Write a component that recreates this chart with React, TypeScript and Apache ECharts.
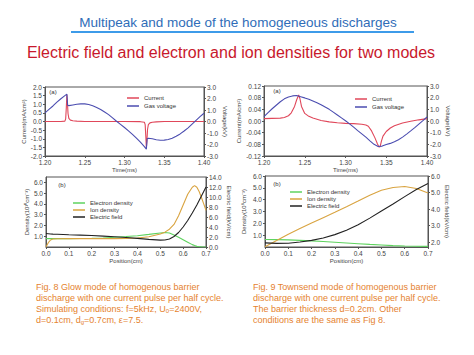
import React, { useEffect, useRef } from 'react';
import * as echarts from 'echarts';

// ---------- Fig. 8 (a): glow mode, current & gas voltage ----------
const glowCurrentTime = [1.200, 1.220, 1.2250, 1.2260, 1.2268, 1.2275, 1.2282, 1.2290, 1.2300, 1.2320, 1.2350, 1.2400, 1.2500, 1.3000, 1.3200, 1.3250, 1.3260, 1.3268, 1.3275, 1.3282, 1.3290, 1.3300, 1.3320, 1.3350, 1.3400, 1.3500, 1.4000];
const glowCurrent = [0.0, 0.0, 0.02, 0.15, 0.80, 1.55, 1.10, 0.45, 0.18, 0.08, 0.04, 0.02, 0.0, 0.0, -0.01, -0.04, -0.18, -0.85, -1.55, -1.10, -0.45, -0.18, -0.08, -0.04, -0.02, 0.0, 0.0];
const glowVoltageTime = [1.200, 1.205, 1.210, 1.215, 1.220, 1.225, 1.2275, 1.2285, 1.230, 1.235, 1.240, 1.245, 1.250, 1.255, 1.260, 1.265, 1.270, 1.275, 1.280, 1.285, 1.290, 1.295, 1.300, 1.305, 1.310, 1.315, 1.320, 1.325, 1.3275, 1.3285, 1.330, 1.335, 1.340, 1.345, 1.350, 1.355, 1.360, 1.365, 1.370, 1.375, 1.380, 1.385, 1.390, 1.395, 1.400];
const glowVoltage = [0.75, 1.05, 1.35, 1.68, 1.98, 2.25, 2.38, 1.42, 1.38, 1.44, 1.50, 1.53, 1.53, 1.48, 1.37, 1.22, 1.05, 0.83, 0.60, 0.32, 0.02, -0.25, -0.52, -0.82, -1.12, -1.45, -1.80, -2.18, -2.40, -1.50, -1.45, -1.50, -1.58, -1.63, -1.62, -1.56, -1.45, -1.28, -1.08, -0.83, -0.55, -0.22, 0.10, 0.42, 0.72];

// ---------- Fig. 9 (a): Townsend mode, current & gas voltage ----------
const townCurrentTime = [1.200, 1.210, 1.220, 1.225, 1.230, 1.2335, 1.2375, 1.240, 1.2425, 1.2440, 1.246, 1.250, 1.255, 1.260, 1.270, 1.280, 1.290, 1.300, 1.310, 1.320, 1.325, 1.328, 1.332, 1.336, 1.339, 1.341, 1.3425, 1.344, 1.346, 1.350, 1.355, 1.360, 1.370, 1.380, 1.390, 1.400];
const townCurrent = [0.008, 0.009, 0.010, 0.012, 0.018, 0.028, 0.050, 0.072, 0.089, 0.078, 0.050, 0.026, 0.016, 0.010, 0.002, -0.003, -0.006, -0.008, -0.009, -0.011, -0.014, -0.018, -0.034, -0.057, -0.077, -0.089, -0.088, -0.070, -0.052, -0.036, -0.024, -0.016, -0.007, -0.001, 0.004, 0.008];
const townVoltageTime = [1.200, 1.205, 1.210, 1.215, 1.220, 1.225, 1.230, 1.235, 1.240, 1.245, 1.250, 1.255, 1.260, 1.265, 1.270, 1.275, 1.280, 1.285, 1.290, 1.295, 1.300, 1.305, 1.310, 1.315, 1.320, 1.325, 1.330, 1.335, 1.340, 1.345, 1.350, 1.355, 1.360, 1.365, 1.370, 1.375, 1.380, 1.385, 1.390, 1.395, 1.400];
const townVoltage = [0.37, 0.72, 1.05, 1.35, 1.65, 1.90, 2.06, 2.15, 2.18, 2.08, 1.98, 1.87, 1.72, 1.57, 1.40, 1.20, 1.00, 0.76, 0.52, 0.27, 0.02, -0.25, -0.53, -0.82, -1.10, -1.38, -1.70, -2.00, -2.18, -2.15, -2.02, -1.92, -1.78, -1.60, -1.38, -1.12, -0.85, -0.57, -0.27, 0.03, 0.34];

// ---------- Fig. 8 (b): glow mode, densities & field ----------
const glowPosition = [0, 0.01, 0.02, 0.03, 0.05, 0.1, 0.15, 0.2, 0.25, 0.3, 0.35, 0.4, 0.45, 0.5, 0.52, 0.54, 0.56, 0.58, 0.6, 0.62, 0.64, 0.65, 0.66, 0.67, 0.68, 0.69, 0.7];
const glowElectron = [0.78, 0.78, 0.78, 0.78, 0.78, 0.78, 0.79, 0.8, 0.84, 0.9, 0.97, 1.05, 1.17, 1.3, 1.35, 1.3, 1.12, 0.9, 0.68, 0.45, 0.22, 0.13, 0.06, 0.03, 0.01, 0.0, 0.0];
const glowIon = [0.0, 0.4, 0.65, 0.74, 0.77, 0.78, 0.78, 0.78, 0.78, 0.78, 0.8, 0.84, 0.95, 1.2, 1.38, 1.65, 2.1, 2.9, 3.9, 4.9, 5.55, 5.7, 5.55, 5.15, 4.6, 4.0, 3.4];
const glowField = [2.7, 2.65, 2.6, 2.58, 2.55, 2.45, 2.38, 2.3, 2.18, 2.05, 1.9, 1.72, 1.52, 1.38, 1.4, 1.6, 2.1, 2.9, 4.0, 5.3, 6.8, 7.6, 8.4, 9.3, 10.2, 11.1, 12.0];

// ---------- Fig. 9 (b): Townsend mode, densities & field ----------
const townPosition = [0, 0.05, 0.1, 0.15, 0.2, 0.25, 0.3, 0.35, 0.4, 0.45, 0.5, 0.55, 0.6, 0.65, 0.7];
const townElectron = [0.63, 0.62, 0.6, 0.56, 0.52, 0.46, 0.4, 0.34, 0.28, 0.22, 0.17, 0.12, 0.08, 0.06, 0.05];
const townIon = [0.03, 0.55, 1.08, 1.56, 2.03, 2.48, 2.93, 3.4, 3.88, 4.38, 4.8, 5.03, 5.11, 4.95, 4.57];
const townField = [1.95, 1.92, 1.93, 2.0, 2.1, 2.25, 2.45, 2.72, 3.05, 3.45, 3.88, 4.3, 4.75, 5.18, 5.55];

const titleText = 'Multipeak and mode of the homogeneous discharges';
const subtitleText = 'Electric field and electron and ion densities for two modes';
const captionLeft = 'Fig. 8 Glow mode of homogenous barrier\ndischarge with one current pulse per half cycle.\nSimulating conditions: f=5kHz, U{sub|0}=2400V,\nd=0.1cm, d{sub|g}=0.7cm, \u03b5=7.5.';
const captionRight = 'Fig. 9 Townsend mode of homogenous barrier\ndischarge with one current pulse per half cycle.\nThe barrier thickness d=0.2cm. Other\nconditions are the same as Fig 8.';

const FONT = 'Liberation Sans, Arial, sans-serif';
const AX = '#555';
const RED = '#e0475a';
const BLUE = '#4b4db0';
const GREEN = '#5fd35f';
const ORANGE = '#d9a441';
const BLACK = '#222';

const pairs = (xs: number[], ys: number[]) => xs.map((x, i) => [x, ys[i]]);

const fix = (d: number) => (v: number) => v.toFixed(d);

function axisBase(extra: any) {
  return {
    type: 'value',
    axisLine: { show: true, onZero: false, lineStyle: { color: AX, width: 1 } },
    axisTick: { show: true, length: 2, lineStyle: { color: AX } },
    splitLine: { show: false },
    nameTextStyle: { fontSize: 6, color: '#444', fontFamily: FONT },
    ...extra,
    axisLabel: { fontSize: 6.5, color: '#444', margin: 3, fontFamily: FONT, ...(extra.axisLabel || {}) },
  };
}

function line(name: string, color: string, x: number, y: number, data: number[][]) {
  return {
    type: 'line',
    name,
    xAxisIndex: x,
    yAxisIndex: y,
    data,
    symbol: 'none',
    lineStyle: { color, width: 1.1 },
    itemStyle: { color },
    emphasis: { disabled: true },
  };
}

function legend(names: string[], left: number, top: number, gap: number) {
  return {
    data: names,
    left,
    top,
    orient: 'vertical',
    icon: 'rect',
    itemWidth: 12,
    itemHeight: 1.5,
    itemGap: gap,
    padding: 0,
    selectedMode: false,
    textStyle: { fontSize: 6, color: '#333', fontFamily: FONT, lineHeight: 7 },
  };
}

function panelLabel(text: string, x: number, y: number) {
  return {
    type: 'text',
    x,
    y,
    style: { text, fill: '#333', fontSize: 6, fontFamily: FONT, align: 'center', verticalAlign: 'middle' },
  };
}

export default function App() {
  const ref = useRef<HTMLDivElement>(null);

  useEffect(() => {
    if (!ref.current) return;
    const chart = echarts.init(ref.current, undefined, { renderer: 'svg' });

    const gridStyle = { show: true, borderColor: AX, borderWidth: 1, backgroundColor: 'transparent', containLabel: false };

    const option: any = {
      animation: false,
      backgroundColor: '#fff',
      grid: [
        { ...gridStyle, left: 45, top: 87, width: 159, height: 69 },
        { ...gridStyle, left: 264, top: 86, width: 163, height: 70 },
        { ...gridStyle, left: 46, top: 177, width: 160, height: 70 },
        { ...gridStyle, left: 265, top: 176, width: 163, height: 71 },
      ],
      xAxis: [
        axisBase({ gridIndex: 0, min: 1.2, max: 1.4, interval: 0.05, name: 'Time(ms)', nameLocation: 'middle', nameGap: 11, axisLabel: { formatter: fix(2) } }),
        axisBase({ gridIndex: 1, min: 1.2, max: 1.4, interval: 0.05, name: 'Time(ms)', nameLocation: 'middle', nameGap: 9, axisLabel: { formatter: fix(2) } }),
        axisBase({ gridIndex: 2, min: 0, max: 0.7, interval: 0.1, name: 'Position(cm)', nameLocation: 'middle', nameGap: 11, axisLabel: { formatter: fix(1) } }),
        axisBase({ gridIndex: 3, min: 0, max: 0.7, interval: 0.1, name: 'Position(cm)', nameLocation: 'middle', nameGap: 11, axisLabel: { formatter: fix(1) } }),
      ],
      yAxis: [
        axisBase({ gridIndex: 0, position: 'left', min: -2, max: 2, interval: 0.5, name: 'Current(mA/cm\u00b2)', nameLocation: 'middle', nameGap: 16, axisLabel: { formatter: fix(1) } }),
        axisBase({ gridIndex: 0, position: 'right', min: -3, max: 3, interval: 1, name: 'Voltage(kV)', nameLocation: 'middle', nameGap: 18, nameRotate: -90, axisLabel: { formatter: fix(1) } }),
        axisBase({ gridIndex: 1, position: 'left', min: -0.12, max: 0.12, interval: 0.04, name: 'Current(mA/cm\u00b2)', nameLocation: 'middle', nameGap: 19, axisLabel: { formatter: fix(2) } }),
        axisBase({ gridIndex: 1, position: 'right', min: -3, max: 3, interval: 1, name: 'Voltage(kV)', nameLocation: 'middle', nameGap: 15, nameRotate: -90, axisLabel: { formatter: fix(1) } }),
        axisBase({ gridIndex: 2, position: 'left', min: 0, max: 6.5, interval: 1, name: 'Density(10\u00b9\u2070cm\u207b\u00b3)', nameLocation: 'middle', nameGap: 12, axisLabel: { formatter: fix(1), showMinLabel: false, showMaxLabel: false } }),
        axisBase({ gridIndex: 2, position: 'right', min: 0, max: 14, interval: 2, name: 'Electric field(kV/cm)', nameLocation: 'middle', nameGap: 16, nameRotate: -90, axisLabel: { formatter: fix(1) } }),
        axisBase({ gridIndex: 3, position: 'left', min: 0, max: 6, interval: 1, name: 'Density(10\u2078cm\u207b\u00b3)', nameLocation: 'middle', nameGap: 18, axisLabel: { formatter: fix(1), showMinLabel: false } }),
        axisBase({ gridIndex: 3, position: 'right', min: 1.7, max: 6, splitNumber: 4, name: 'Electric field(kV/cm)', nameLocation: 'middle', nameGap: 13, nameRotate: -90, axisLabel: { formatter: fix(1), showMinLabel: false } }),
      ],
      legend: [
        legend(['Current', 'Gas voltage'], 127, 94.5, 1),
        legend(['Current', 'Gas voltage'], 355, 95.5, 1),
        legend(['Electron density', 'Ion density', 'Electric field'], 73, 199.5, 0),
        legend(['Electron density', 'Ion density', 'Electric field'], 290, 188.5, 0),
      ],
      series: [
        line('Current', RED, 0, 0, pairs(glowCurrentTime, glowCurrent)),
        line('Gas voltage', BLUE, 0, 1, pairs(glowVoltageTime, glowVoltage)),
        line('Current', RED, 1, 2, pairs(townCurrentTime, townCurrent)),
        line('Gas voltage', BLUE, 1, 3, pairs(townVoltageTime, townVoltage)),
        line('Electron density', GREEN, 2, 4, pairs(glowPosition, glowElectron)),
        line('Ion density', ORANGE, 2, 4, pairs(glowPosition, glowIon)),
        line('Electric field', BLACK, 2, 5, pairs(glowPosition, glowField)),
        line('Electron density', GREEN, 3, 6, pairs(townPosition, townElectron)),
        line('Ion density', ORANGE, 3, 6, pairs(townPosition, townIon)),
        line('Electric field', BLACK, 3, 7, pairs(townPosition, townField)),
      ],
      graphic: [
        {
          type: 'text', x: 238, y: 22,
          style: { text: titleText, fill: '#2f6db8', fontSize: 13.5, fontFamily: FONT, align: 'center', verticalAlign: 'middle' },
        },
        {
          type: 'line', shape: { x1: 71, y1: 32, x2: 414, y2: 32 },
          style: { stroke: '#3d9be9', lineWidth: 2 },
        },
        {
          type: 'text', x: 231, y: 52,
          style: { text: subtitleText, fill: '#c8182c', fontSize: 16, fontFamily: FONT, align: 'center', verticalAlign: 'middle' },
        },
        panelLabel('(a)', 53, 92),
        panelLabel('(a)', 277, 91),
        panelLabel('(b)', 62, 185),
        panelLabel('(b)', 277, 184),
        {
          type: 'text', x: 36, y: 281,
          style: {
            text: captionLeft, fill: '#e5822f', fontSize: 9, lineHeight: 11, fontFamily: FONT,
            align: 'left', verticalAlign: 'top',
            rich: { sub: { fontSize: 6, fill: '#e5822f', fontFamily: FONT, verticalAlign: 'bottom', lineHeight: 11, padding: [4, 0, 0, 0] } },
          },
        },
        {
          type: 'text', x: 253, y: 281,
          style: { text: captionRight, fill: '#e5822f', fontSize: 9, lineHeight: 11, fontFamily: FONT, align: 'left', verticalAlign: 'top' },
        },
      ],
    };

    chart.setOption(option);
    return () => chart.dispose();
  }, []);

  return (
    <div
      ref={ref}
      style={{ position: 'absolute', left: 0, top: 0, width: 474, height: 355, background: '#fff' }}
    />
  );
}
